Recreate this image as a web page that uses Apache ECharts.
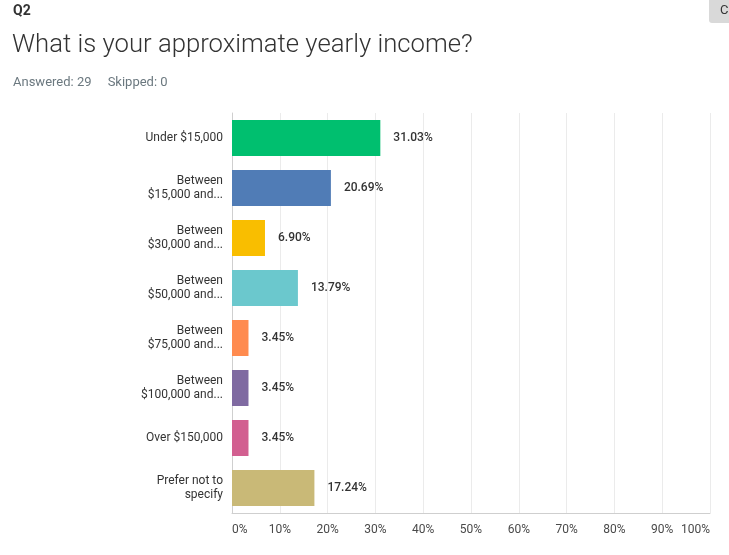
<!DOCTYPE html>
<html>
<head>
<meta charset="utf-8">
<script src="https://cdn.jsdelivr.net/npm/echarts@6/dist/echarts.min.js"></script>
<style>
  html, body { margin: 0; padding: 0; background: #fff; }
  #chart { width: 729px; height: 555px; }
</style>
</head>
<body>
<div id="chart"></div>
<script>
// answer options, shown top to bottom
var categories = [
    "Under $15,000",
    "Between\n$15,000 and...",
    "Between\n$30,000 and...",
    "Between\n$50,000 and...",
    "Between\n$75,000 and...",
    "Between\n$100,000 and...",
    "Over $150,000",
    "Prefer not to\nspecify"
];
var percents = [31.03, 20.69, 6.90, 13.79, 3.45, 3.45, 3.45, 17.24];
var barColors = ["#00bf6f", "#507cb6", "#f9be00", "#6bc8cd", "#ff8b4f", "#7f6aa1", "#d25f90", "#c9b977"];
var xTicks = [0, 10, 20, 30, 40, 50, 60, 70, 80, 90, 100];

var font = "Roboto, 'Liberation Sans', Arial, sans-serif";

var chart = echarts.init(document.getElementById("chart"));

var data = [];
for (var i = 0; i < percents.length; i++) {
    data.push({ value: percents[i], itemStyle: { color: barColors[i] } });
}

chart.setOption({
    animation: false,
    backgroundColor: "#fff",
    textStyle: { fontFamily: font },
    title: [
        { text: "Q2", left: 8, top: -1, textStyle: { fontSize: 14, fontWeight: "bold", color: "#333", fontFamily: font } },
        { text: "What is your approximate yearly income?", left: 7, top: 28, textStyle: { fontSize: 25.7, fontWeight: 300, color: "#333", fontFamily: font } },
        { text: "Answered: 29     Skipped: 0", left: 8, top: 71, textStyle: { fontSize: 13, fontWeight: "normal", color: "#6b787f", fontFamily: font } }
    ],
    graphic: [
        { type: "rect", shape: { x: 709, y: -4, width: 30, height: 27, r: 3 }, style: { fill: "#d9d9d9" } },
        { type: "text", style: { x: 720, y: 4, text: "C", fill: "#333", font: "13px " + font } }
    ],
    grid: { left: 232, right: 19, top: 113, bottom: 42, containLabel: false },
    xAxis: {
        type: "value",
        min: xTicks[0],
        max: xTicks[xTicks.length - 1],
        interval: 10,
        axisLine: { show: true, lineStyle: { color: "#cfcfcf", width: 1 } },
        axisTick: { show: false },
        splitLine: { show: true, lineStyle: { color: "#ebebeb", width: 1 } },
        axisLabel: {
            formatter: "{value}%",
            color: "#4a4a4a",
            fontSize: 12,
            margin: 11,
            alignMinLabel: "left",
            alignMaxLabel: "right"
        }
    },
    yAxis: {
        type: "category",
        inverse: true,
        data: categories,
        axisLine: { show: true, lineStyle: { color: "#cfcfcf", width: 1 } },
        axisTick: { show: false },
        axisLabel: { color: "#333", fontSize: 12, lineHeight: 14, margin: 9, align: "right" }
    },
    series: [{
        type: "bar",
        data: data,
        barWidth: 36,
        label: {
            show: true,
            position: "right",
            distance: 13,
            color: "#333",
            fontSize: 12,
            fontWeight: 500,
            formatter: function (p) { return p.value.toFixed(2) + "%"; }
        }
    }]
});
</script>
</body>
</html>
